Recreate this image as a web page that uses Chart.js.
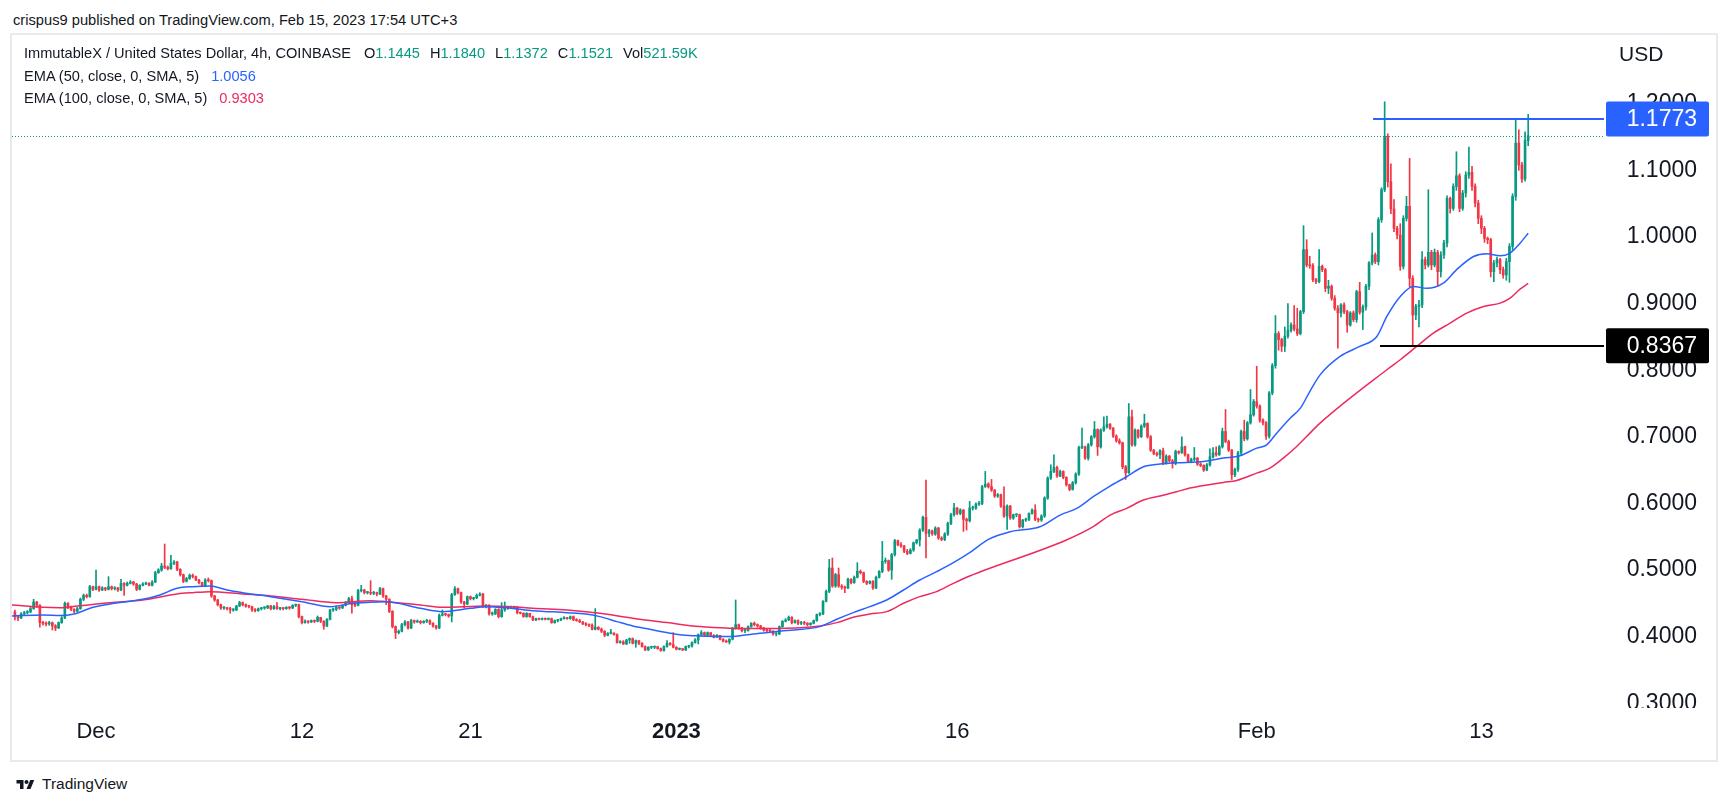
<!DOCTYPE html>
<html>
<head>
<meta charset="utf-8">
<title>ImmutableX / USD 4h</title>
<script src="https://cdn.jsdelivr.net/npm/chart.js@4.4.1/dist/chart.umd.min.js"></script>
<style>
  body { margin: 0; width: 1729px; height: 806px; background: #fff; overflow: hidden; position: relative;
         font-family: "Liberation Sans", Arial, sans-serif; color: #131722; }
  .t { position: absolute; white-space: nowrap; font-size: 14.6px; line-height: 18px; }
  .t span { margin-left: 10px; }
  .t span.v { margin-left: 0; }
  #panel { position: absolute; left: 10px; top: 33px; width: 1708px; height: 729px; box-sizing: border-box; border: 2px solid #e9e9ef; }
  #chart { position: absolute; left: 12px; top: 35px; }
  .g { color: #089981; } .b { color: #2962ff; } .r { color: #ee2a5f; }
</style>
</head>
<body>
<div id="panel"></div>
<canvas id="chart" width="1705" height="726"></canvas>

<div class="t" style="left:13px;top:11px;font-size:14.7px">crispus9 published on TradingView.com, Feb 15, 2023 17:54 UTC+3</div>
<div class="t" style="left:24px;top:44px">ImmutableX / United States Dollar, 4h, COINBASE<span style="margin-left:13px">O</span><span class="v g">1.1445</span><span>H</span><span class="v g">1.1840</span><span>L</span><span class="v g">1.1372</span><span>C</span><span class="v g">1.1521</span><span>Vol</span><span class="v g">521.59K</span></div>
<div class="t" style="left:24px;top:67px">EMA (50, close, 0, SMA, 5)<span class="b" style="margin-left:12px">1.0056</span></div>
<div class="t" style="left:24px;top:89px">EMA (100, close, 0, SMA, 5)<span class="r" style="margin-left:12px">0.9303</span></div>
<div class="t" style="left:1619px;top:43px;font-size:21px;line-height:22px">USD</div>

<svg style="position:absolute;left:13px;top:778px" width="25" height="14" viewBox="0 0 36 28">
  <path d="M14 22H7V11H0V4h14v18zM28 22h-8l7.5-18h8L28 22z" fill="#131722"/>
  <circle cx="20" cy="8" r="4" fill="#131722"/>
</svg>
<div class="t" style="left:42px;top:775px;font-size:15.5px">TradingView</div>

<script>
// IMX/USD 4h candles (Coinbase), read off the snapshot
// prices are in thousandths of a dollar
const firstOpen = 437;
const closes = [
  430,428,434,436,437,442,452,447,421,420, 419,421,416,413,421,428,450,444,441,438,
  442,456,462,460,475,471,475,470,473,471, 475,472,473,470,480,477,480,482,479,471,
  477,479,480,477,482,496,500,506,504,502, 510,512,501,493,483,487,492,490,485,481,
  477,485,484,461,455,448,443,443,442,440, 440,446,451,448,446,445,440,439,442,443,
  443,446,442,445,442,443,442,444,443,447, 448,430,421,423,422,424,423,429,423,416,
  426,440,441,444,443,447,451,457,448,447, 469,470,466,466,465,466,464,472,461,456,
  438,415,406,408,418,422,413,424,422,423, 421,423,424,420,416,413,432,434,433,431,
  463,472,466,452,449,460,457,458,462,464, 446,447,434,434,441,430,440,443,444,444,
  445,436,435,430,435,430,425,427,426,427, 426,427,421,424,425,427,428,427,430,425,
  424,422,419,418,417,411,414,411,408,402, 405,405,403,391,392,389,395,397,390,394,
  390,385,380,384,384,385,382,379,385,390, 388,384,381,382,380,385,386,391,395,403,
  406,402,406,402,399,402,396,393,392,396, 412,418,413,409,409,415,420,418,416,413,
  410,409,408,404,404,415,423,425,429,421, 424,420,421,420,418,420,424,433,434,453,
  468,503,476,493,476,474,473,486,481,489, 498,496,483,480,483,473,489,498,513,514,
  500,523,544,538,536,528,525,530,541,545, 560,579,555,559,554,563,548,546,554,570,
  583,593,585,590,576,574,593,593,599,600, 625,629,625,620,611,613,596,581,596,578,
  583,583,565,575,576,585,590,576,575,581, 608,638,648,654,641,648,639,628,621,631,
  644,684,685,668,688,700,711,685,710,715, 719,713,701,694,691,655,646,730,688,710,
  700,716,720,700,680,675,673,679,660,671, 664,660,678,676,685,673,663,666,668,659,
  657,650,658,670,676,673,685,708,693,680, 643,651,676,708,697,721,733,753,746,725,
  721,701,766,807,855,846,836,851,860,868, 862,855,888,981,958,957,936,933,956,951,
  923,926,908,893,886,898,888,868,886,876, 918,887,895,926,961,973,963,1026,1071,1151,
  1083,1042,1013,1003,956,1028,1046,938,883,896, 898,966,958,977,958,977,948,973,991,1058,
  1043,1076,1092,1043,1066,1093,1097,1076,1051,1028, 1013,998,996,948,961,966,951,943,963,986,
  1061,1141,1108,1087,1145,1152
];
const highs = [
  440,432,436,438,439,444,456,453,448,423, 422,423,422,418,422,430,452,451,446,442,
  444,458,464,464,477,476,500,476,475,474, 490,476,475,474,486,481,482,484,483,480,
  478,481,482,481,484,498,502,510,539,506, 522,514,513,502,494,489,494,494,491,486,
  482,487,488,485,462,456,449,445,444,444, 442,447,453,452,449,447,446,442,443,444,
  445,447,447,447,451,444,444,445,445,448, 449,449,431,425,424,425,425,431,429,424,
  427,441,443,446,445,448,453,459,461,452, 471,477,471,468,484,468,467,474,473,462,
  457,439,416,410,420,424,423,426,425,425, 424,424,426,425,421,417,434,440,435,434,
  465,475,473,467,453,461,461,459,464,466, 465,448,448,437,442,442,451,452,446,446,
  446,445,437,436,436,435,431,428,428,428, 428,428,428,425,426,428,430,429,431,431,
  427,426,423,421,419,419,442,415,413,409, 406,411,406,404,394,394,396,398,398,395,
  394,391,386,385,385,386,385,383,386,394, 391,406,385,383,382,386,387,392,397,404,
  409,407,407,406,403,403,402,397,395,397, 414,455,419,414,411,416,421,422,419,417,
  414,411,411,409,406,416,424,427,431,430, 425,425,423,423,421,421,425,434,436,454,
  470,516,518,495,503,478,476,488,487,491, 511,500,497,484,484,484,491,499,543,518,
  515,525,546,545,541,537,531,532,542,546, 562,581,635,561,560,565,564,550,556,572,
  585,600,594,592,591,578,603,596,601,603, 627,648,631,636,621,615,614,625,598,597,
  584,584,584,576,578,586,592,598,578,583, 610,640,658,673,656,650,649,640,629,633,
  646,686,713,686,690,702,723,712,712,730, 731,720,714,703,697,692,657,750,740,712,
  711,718,734,721,702,681,677,681,683,673, 672,666,680,679,700,686,674,668,684,669,
  661,658,660,682,684,685,687,713,741,695, 681,653,678,710,725,723,771,756,806,748,
  727,723,768,810,882,858,848,865,900,871, 897,893,890,1017,996,971,960,938,981,958,
  953,935,928,912,897,900,901,890,888,889, 920,932,898,929,963,1006,976,1029,1074,1203,
  1155,1110,1056,1016,1020,1032,1061,1118,942,899, 905,978,970,1071,980,982,980,978,995,1062,
  1060,1080,1128,1095,1070,1098,1135,1106,1080,1055, 1032,1016,1000,998,965,970,968,955,968,990,
  1065,1176,1161,1112,1158,1184
];
const lows = [
  425,424,427,432,434,436,441,444,414,417, 416,417,410,409,412,420,427,442,439,436,
  437,441,454,458,459,469,470,468,469,469, 470,470,470,468,469,462,476,479,477,469,
  470,476,478,476,476,481,495,498,502,500, 501,508,499,491,481,482,486,488,484,479,
  476,476,482,459,453,446,441,441,440,435, 438,439,445,446,444,443,438,437,438,440,
  441,442,440,441,441,440,440,441,441,442, 445,428,419,420,420,421,421,422,421,411,
  415,425,438,439,441,442,446,450,435,445, 446,467,464,464,463,463,461,463,459,448,
  436,413,397,404,407,416,411,412,420,421, 419,420,421,418,414,411,412,431,431,429,
  422,462,464,450,443,448,455,455,457,461, 444,443,432,432,433,428,429,438,441,442,
  443,434,434,429,429,429,424,424,425,425, 425,425,420,420,422,424,426,426,426,424,
  423,421,418,416,415,410,410,410,406,400, 401,404,402,390,390,388,388,390,389,384,
  388,384,379,379,382,382,381,378,378,384, 387,383,380,380,379,379,383,384,390,389,
  401,400,401,401,398,399,395,392,391,389, 395,411,411,407,406,408,414,416,414,411,
  408,407,406,402,401,403,414,422,424,419, 420,418,418,418,416,417,419,423,431,433,
  452,466,474,474,474,471,466,472,479,480, 488,494,481,478,479,471,472,488,496,510,
  498,486,521,536,534,526,523,524,528,539, 536,558,518,550,552,552,546,544,544,552,
  568,581,583,583,558,560,572,590,591,597, 598,624,623,618,609,609,594,579,561,576,
  576,580,563,563,573,574,584,574,572,573, 579,606,636,646,639,640,637,626,619,620,
  629,642,682,666,665,686,698,672,683,708, 713,711,699,692,689,652,636,645,686,686,
  698,699,714,698,678,673,671,667,658,659, 662,653,658,674,675,671,661,661,664,657,
  655,648,649,656,668,671,672,683,691,678, 636,640,648,673,694,695,719,731,743,722,
  718,696,698,763,803,830,828,828,848,857, 859,852,853,885,955,953,933,930,931,948,
  918,915,905,890,833,880,885,857,866,873, 872,884,861,890,921,958,960,958,1022,1068,
  1075,1035,1008,997,950,952,1024,925,837,876, 865,894,952,955,951,955,926,940,968,985,
  1036,1040,1070,1038,1040,1060,1088,1070,1045,1020, 1005,992,990,940,933,955,945,938,935,932,
  980,1055,1100,1082,1084,1137
];

// EMA lines read at candle positions (index, value)
const ema50At = [-1,9,14.5,19,25,30.5,41,46.5,52,57,62.5,68,73,82,92,101,108.5,119,130,137,146,151,159,166,
  177,183,187.5,193,198,203.5,209,214,219.5,229,236.7,247.4,258,263.4,268.7,274,279.4,284.8,290,295.4,300.8,
  306,312,319,328.5,335,340.3,345.6,351,356.3,361.7,367,372.3,380,383,387.3,392.6,398,401.2,404.4,408.7,412,
  415,418.3,424.7,431,436.5,439.7,444,448.2,452.5,457.8,462,467.5,471.7,476,479.2,482.4,485];
const ema50 = [431,432.5,431.5,434,444,449,456,462.5,472.5,475,476,470,466,460,452.5,445,450,452.5,442.5,437.5,
  442.5,445,442.5,439,436,434,430,422.5,416,411,406,402.5,401,400,404,409,415,426,436,445,455,470,485,497.5,511,
  526,546,557.5,565,582.5,592.5,610,626,640,655,659,661,662.5,664.5,668,671.5,683,688,705.5,728,743,768,793,
  820.7,835.7,850.7,880.7,910.7,925.7,923,930.7,950.7,970.7,974.7,971.7,975.7,990.7,1005.6];
const ema100At = [-1,9,14.5,20,30.5,41,52,57,62.5,73,82,92,103,114,119,130,137,151,159,166,177,187.5,198,209,
  219.5,229,237,247,258,263.4,268.7,274,279.4,284.8,290,295.4,300.8,306,337,345.6,351,356.3,361.7,367,372.3,
  376.6,387.3,391.6,398,402.2,406.5,410.8,414,418.3,439.7,444,449.3,454.6,460,465.3,470.7,476,479.2,482.4,485];
const ema100 = [447.5,444,443.5,446,451,455,464,466,467.5,464,461,456,451,454,452.5,447.5,444,446,445,442.5,440,
  435,427.5,421,415,412.5,412,412.5,416,421,429,434,437.5,450,460,467.5,480,491,545,565,582.5,592.5,605,611,
  617.5,623,631.5,634.5,645.5,653,668,685.5,700.5,720.5,800.7,815.7,835.7,855.7,870.7,885.7,895.7,900.7,908.2,
  921.7,930.3];

// axis labels
const dateTicks = [26, 92, 146, 212, 302, 398, 470];
const dateLabels = ['Dec', '12', '21', '2023', '16', 'Feb', '13'];
const priceTicks = [0.3, 0.4, 0.5, 0.6, 0.7, 0.8, 0.9, 1.0, 1.1, 1.2];

// drawn levels and last price
const lastPrice = 1.1521;
const levelPrices = [1.1773, 0.8367];
const levelFrom = [435.3, 437.5];

const GREEN = '#089981', RED = '#f23645';
const FONT = '"Liberation Sans", Arial, sans-serif';
const usd = v => v / 1000;

const opens = closes.map((c, i) => i === 0 ? firstOpen : closes[i - 1]);
const candleColors = closes.map((c, i) => c >= opens[i] ? GREEN : RED);

const overlay = {
  id: 'overlay',
  afterDatasetsDraw(chart) {
    const { ctx, chartArea: a, scales: { x, y } } = chart;
    ctx.save();
    // last price dotted line
    const yl = Math.round(y.getPixelForValue(lastPrice)) + 0.5;
    ctx.strokeStyle = GREEN;
    ctx.lineWidth = 1;
    ctx.setLineDash([1, 2]);
    ctx.beginPath(); ctx.moveTo(a.left, yl); ctx.lineTo(a.right, yl); ctx.stroke();
    ctx.setLineDash([]);
    // horizontal levels
    const lineColors = ['#2962ff', '#000000'];
    levelPrices.forEach((p, i) => {
      const yy = Math.round(y.getPixelForValue(p));
      ctx.strokeStyle = lineColors[i];
      ctx.lineWidth = 2;
      ctx.beginPath(); ctx.moveTo(x.getPixelForValue(levelFrom[i]), yy); ctx.lineTo(a.right, yy); ctx.stroke();
    });
    ctx.restore();
  },
  afterDraw(chart) {
    const { ctx, chartArea: a, scales: { y } } = chart;
    const boxColors = ['#2962ff', '#000000'];
    ctx.save();
    // price scale ends where the time scale starts
    ctx.fillStyle = '#ffffff';
    ctx.fillRect(a.right, a.bottom, chart.width - a.right - 2, chart.height - a.bottom - 2);
    levelPrices.forEach((p, i) => {
      const yy = y.getPixelForValue(p);
      const left = a.right + 2;
      ctx.fillStyle = boxColors[i];
      ctx.beginPath();
      ctx.roundRect(left, yy - 17.5, chart.width - 8 - left, 35, 2);
      ctx.fill();
      ctx.fillStyle = '#ffffff';
      ctx.font = '23px ' + FONT;
      ctx.textAlign = 'right';
      ctx.textBaseline = 'middle';
      ctx.fillText(p.toFixed(4), y.right, yy + 1);
    });
    ctx.restore();
  }
};

const ctx = document.getElementById('chart').getContext('2d');
new Chart(ctx, {
  type: 'bar',
  data: {
    datasets: [
      {
        type: 'line', label: 'EMA 50', order: 0,
        data: ema50At.map((v, i) => ({ x: v, y: usd(ema50[i]) })),
        borderColor: '#2962ff', borderWidth: 1.5, pointRadius: 0, cubicInterpolationMode: 'monotone'
      },
      {
        type: 'line', label: 'EMA 100', order: 1,
        data: ema100At.map((v, i) => ({ x: v, y: usd(ema100[i]) })),
        borderColor: '#ee2a5f', borderWidth: 1.5, pointRadius: 0, cubicInterpolationMode: 'monotone'
      },
      {
        label: 'body', order: 2, grouped: false, barThickness: 2, minBarLength: 1,
        data: closes.map((c, i) => ({ x: i, y: [usd(opens[i]), usd(c)] })),
        backgroundColor: candleColors, borderWidth: 0
      },
      {
        label: 'wick', order: 3, grouped: false, barThickness: 1,
        data: closes.map((c, i) => ({ x: i, y: [usd(lows[i]), usd(highs[i])] })),
        backgroundColor: candleColors, borderWidth: 0
      }
    ]
  },
  options: {
    responsive: false,
    animation: false,
    events: [],
    layout: { padding: { left: 0, top: 0, right: 20, bottom: 0 } },
    plugins: { legend: { display: false }, tooltip: { enabled: false } },
    scales: {
      x: {
        type: 'linear', min: -0.93, max: 509.3, offset: false,
        grid: { display: false }, border: { display: false },
        afterBuildTicks: s => { s.ticks = dateTicks.map(v => ({ value: v })); },
        afterFit: s => { s.height = 53; s.paddingLeft = 0; s.paddingRight = 0; },
        ticks: {
          autoSkip: false, maxRotation: 0, padding: 3, color: '#131722',
          font: c => ({ family: FONT, size: 22, weight: c.tick && c.tick.value === 212 ? 'bold' : 'normal' }),
          callback: (v, i) => dateLabels[i]
        }
      },
      y: {
        type: 'linear', position: 'right', min: 0.2928, max: 1.3033,
        grid: { display: false }, border: { display: false },
        afterBuildTicks: s => { s.ticks = priceTicks.map(v => ({ value: v })); },
        afterFit: s => { s.width = 93; s.paddingTop = 0; s.paddingBottom = 0; },
        ticks: {
          crossAlign: 'far', color: '#131722',
          font: { family: FONT, size: 23 },
          callback: v => v.toFixed(4)
        }
      }
    }
  },
  plugins: [overlay]
});
</script>
</body>
</html>
